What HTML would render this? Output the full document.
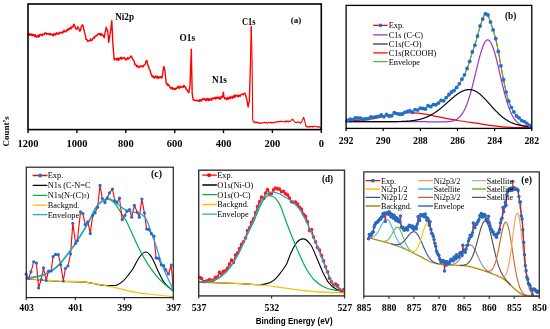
<!DOCTYPE html>
<html><head><meta charset="utf-8"><style>
html,body{margin:0;padding:0;background:#fff;width:550px;height:329px;overflow:hidden}
svg{display:block;will-change:transform}
#w{width:550px;height:329px}

</style></head><body><div id="w">
<svg width="550" height="329" viewBox="0 0 550 329">
<rect width="550" height="329" fill="#fff"/>
<path d="M28 34.6 28.5 34.2 28.9 33.9 29.4 35.3 29.8 33.8 30.3 35.1 30.8 34.8 31.2 34.1 31.7 35.3 32.1 34.2 32.6 35.5 33.1 35.4 33.5 34.5 34 34.6 34.4 35.6 34.9 36.7 35.3 34.9 35.8 35.3 36.2 36.4 36.6 37.3 37.1 36.2 37.6 36.3 38 35.7 38.5 37.1 38.9 34.6 39.4 36.6 39.9 35 40.3 34.5 40.8 34.3 41.2 34.7 41.7 35.1 42.2 35.8 42.6 34 43.1 34.9 43.5 34.9 44 34.1 44.4 34.4 44.9 33 45.3 32.8 45.8 33.1 46.2 33.7 46.7 34.2 47.1 33.6 47.6 33.4 48 34.1 48.5 33.8 49 33.5 49.4 34.8 49.9 34.6 50.3 33.5 50.8 34.2 51.3 34.4 51.7 34.4 52.2 35.3 52.6 35 53.1 33.9 53.6 35.7 54 33.6 54.5 34.6 55 34.2 55.5 34.9 56 33.2 56.5 33.9 57 32.6 57.4 34.1 57.9 34.1 58.4 33.5 58.9 34.1 59.4 32.5 59.9 32.8 60.4 33.1 60.8 32.7 61.3 32.5 61.7 32 62.2 32.9 62.7 33 63.1 31.6 63.6 31.9 64 30.2 64.5 31.2 65 31.6 65.4 31.3 65.9 32 66.3 31.4 66.8 29.8 67.3 29.9 67.7 30.5 68.2 28.7 68.6 29.7 69.1 29.6 69.5 28.4 70 28 70.4 27.6 70.9 29.1 71.3 27.1 71.8 27.8 72.3 26.5 72.7 26.2 73.2 26.8 73.6 24.1 74.1 24.6 74.6 25.4 75 26.5 75.5 28.3 75.9 29 76.4 29.1 76.9 29.3 77.5 27.1 78 26.9 78.5 28 79.1 29.3 79.6 31 80.1 31 80.6 30.2 81.1 27 81.6 26.1 82.1 25.2 82.6 24.9 83.1 26 83.6 28.4 84.1 30.2 84.5 32.7 85 34.1 85.5 35.7 85.9 39.3 86.4 39.3 86.8 39.5 87.3 40.2 87.8 41.5 88.2 41 88.7 40.8 89.2 40.6 89.6 40.7 90 40.6 90.5 38.8 91 40.7 91.4 40.2 91.9 40.2 92.3 39.8 92.8 38.5 93.2 38.6 93.7 38 94.1 36.9 94.6 38 95.1 36.2 95.5 35.9 96 36 96.5 35.5 97 35.7 97.4 34.6 97.9 34.1 98.4 34.2 98.8 33.8 99.3 34.5 99.8 34.2 100.3 33.4 100.8 35.6 101.4 35 101.9 33.8 102.4 34.8 103 35.2 103.6 36.4 104.2 37.8 104.7 34.8 105.2 31.5 105.7 30.8 106.2 27.2 106.7 29.7 107.2 29.6 107.7 31 108.7 42.4 110.7 30.2 111.8 20.8 113 45.4 114.2 59.8 114.7 59.7 115.2 58.6 115.7 58.6 116.2 59.1 116.7 58.8 117.1 60.2 117.6 58.4 118.1 58 118.6 60.3 119.1 59.1 119.6 59 120.1 57.8 120.5 58.7 121 57.2 121.5 58.3 122 59.3 122.4 58.8 122.9 58.2 123.4 57.5 124 57.4 124.5 58.3 125 58.3 125.6 59.7 126 60.1 126.5 59.2 126.9 59.5 127.4 58 127.8 57.4 128.3 58.7 128.8 58.8 129.2 58.2 129.7 57.7 130.1 57.4 130.6 56.9 131 56 131.6 56.3 132.1 58.1 132.6 58.8 133.2 60.2 133.7 60.4 134.3 61.8 134.8 64.5 135.3 64.2 135.8 64.4 136.3 65.8 136.8 66.7 137.3 65.6 137.8 66 138.3 67.3 138.8 67.5 139.2 67.6 139.7 66.1 140.2 65.9 140.7 66 141.1 66.1 141.6 67 142.1 65.8 142.6 66.5 143.1 66.8 143.6 66.2 144.1 64.9 144.6 64.5 145.1 64.1 145.5 63.7 146 61 146.4 61.7 146.9 60.5 147.5 63.7 148.1 65.6 148.7 67 149.2 69 149.6 69.6 150.1 70.2 150.6 73.2 151 73.3 151.5 75.1 152 76.2 152.5 77 153 75.9 153.5 76.2 154 78 154.5 77.2 155 77.8 155.4 76.3 155.9 76.1 156.3 76.2 156.8 78.1 157.3 77.8 157.7 76.1 158.2 77.8 158.6 78.2 159.1 76.9 159.6 77.5 160 76.9 160.4 77.6 160.9 76.7 161.4 76.6 161.8 78.1 162.3 76.4 162.8 72.6 163.3 69.4 163.8 66.4 164.9 70.2 166.1 82.4 166.5 84.1 167 83.4 167.4 85.1 167.9 85.6 168.3 84.5 168.8 85.2 169.2 85.9 169.7 86.4 170.2 87.8 170.6 88.2 171.1 87.6 171.5 88 172 87.3 172.4 89.4 172.9 88 173.4 88.3 173.8 88.6 174.3 89.5 174.7 88.3 175.2 88.5 175.7 89.5 176.1 88.3 176.6 88.3 177 88.1 177.5 86.7 178 87.7 178.4 86.9 178.9 86.3 179.3 88.3 179.8 87.4 180.2 86.4 180.7 87.1 181.2 87.6 181.6 87.1 182.1 86.3 182.5 86.7 183 86.7 183.4 87.2 183.9 85.3 184.3 86.2 184.8 87 185.2 86.7 185.7 87.4 186.1 89.3 186.6 89.2 187.1 89.8 187.5 90.6 188 91.7 188.4 92.8 188.9 92.3 190 85.4 191.3 49.2 192.2 93.8 193.2 99.9 193.7 99.8 194.1 100.3 194.6 100.1 195.1 100.2 195.6 100.7 196 100.1 196.5 100.3 197 100.4 197.5 100.2 198 101.3 198.5 100.7 198.9 101.1 199.4 101.2 199.9 99.4 200.4 100.2 200.9 100 201.4 101.1 201.8 100.8 202.3 98.9 202.7 98.9 203.2 99.6 203.6 98.6 204.1 99 204.5 98.6 205 100.1 205.4 100.3 205.9 100.6 206.4 98.6 206.8 100 207.3 99.9 207.7 98.5 208.2 100.4 208.6 100.5 209.1 98.6 209.5 100.4 210 99.2 210.5 98.9 210.9 99 211.4 100.3 211.8 99.8 212.3 98 212.7 98.6 213.2 98.8 213.7 98.3 214.1 97.8 214.6 98.1 215 99.1 215.5 97.2 215.9 98.5 216.4 98.2 216.8 97 217.3 98.2 217.8 97.7 218.2 98.4 218.7 98 219.2 96.8 219.7 99.1 220.1 98.6 220.6 99 221.1 96.7 221.6 97 222 96.4 222.5 97.5 223.3 92.2 223.9 96.2 224.6 98.8 225.1 98.1 225.5 97.7 226 98.4 226.5 99.6 226.9 99.3 227.4 97.7 227.8 97.4 228.3 99.3 228.8 98.3 229.2 98.6 229.7 96.9 230.2 96.8 230.6 98.4 231.1 97.8 231.6 97.4 232.1 96.3 232.5 98.3 233 97.3 233.5 97.5 234 95.5 234.5 97.3 235 95 235.4 96.9 235.9 95.6 236.4 95.5 236.9 95.2 237.3 95.8 237.8 96.9 238.3 95.3 238.8 95 239.2 96.2 239.7 95.5 240.2 96.3 240.7 95 241.1 94.8 241.6 94.2 242 94.3 242.5 94.3 243 94 243.4 94.9 243.9 93.4 244.3 93.6 244.8 93.3 245.3 94 245.8 95.9 246.3 97.8 246.9 99.6 247.5 103.3 248.1 107 248.7 103.4 249.3 102.4 250.6 60 251.3 26.5" fill="none" stroke="#ff0000" stroke-width="1.4" stroke-linejoin="round" stroke-linecap="round"/>
<path d="M251.3 26.5 252.1 60 252.7 119.9 253.3 121.3 253.9 122.1 254.4 122.2 254.9 121.8 255.3 122.2 255.8 122.8 256.3 121.9 256.8 122.8 257.2 122.4 257.7 122.5 258.2 123 258.7 122.5 259.1 122.7 259.6 123 260.1 123.4 260.6 122.7 261 123.3 261.5 123.2 262 123 262.5 123.1 262.9 122.8 263.4 122.8 263.9 122.4 264.3 122.5 264.8 122.4 265.2 123.1 265.7 122.5 266.2 122.4 266.6 122.3 267.1 123.2 267.6 123.2 268 122.9 268.5 122.5 269 122.4 269.4 122.4 269.9 122.6 270.4 122.2 270.8 122.6 271.3 122.3 271.7 123.1 272.2 123.1 272.7 122.6 273.1 122.2 273.6 122.5 274.1 123 274.5 122.2 275 122.2 275.5 121.7 275.9 122.1 276.4 122.2 276.9 122.2 277.3 121.8 277.8 122.1 278.3 121.4 278.7 121.7 279.2 121.4 279.7 121.8 280.2 121.3 280.6 121.2 281.1 121.5 281.6 121.4 282 121.7 282.5 121.6 283 121.8 283.4 121.7 283.9 121.7 284.4 121.9 284.8 121.2 285.3 121.3 285.8 121.1 286.2 121.9 286.7 120.9 287.1 121.6 287.6 121.5 288.1 120.8 288.5 121.7 289 121.8 289.4 121.5 289.9 121.3 290.4 121.2 290.9 121 291.4 119.8 291.8 119.9 292.3 119.6 292.8 119.2 293.3 120.2 293.8 120.8 294.2 121.4 294.7 121.7 295.2 122.2 295.7 122.7 296.2 122.5 296.7 122.5 297.2 122 297.7 121.8 298.2 122 298.7 122.3 299.2 122.5 299.6 122.2 300.1 123.2 300.6 122.9 301 123 301.5 122 302.1 120.8 302.6 119.7 303.2 118.3 303.7 117.2 304.8 121.3 306 126.5 306.5 125.9 307 126.9 307.5 126.9 308 126.7 308.4 126.7 308.9 126.9 309.4 126.3 309.9 127.1 310.4 126.6 310.9 126.9 311.4 126.3 311.9 126.4 312.4 126.9 312.9 126.2 313.4 126.8 313.9 126.9 314.4 126.3 314.9 126.2 315.4 126.2 315.9 126.4 316.4 126.8 316.9 127 317.4 126.9 317.9 126.9 318.4 127.2 318.8 126.6 319.3 126.7 319.7 126.9 320.2 127.3 321.3 129.5" fill="none" stroke="#ff0000" stroke-width="1.1" stroke-linejoin="round" stroke-linecap="round"/>
<rect x="28" y="4" width="293.3" height="125.6" fill="none" stroke="#000" stroke-width="1.6"/>
<path d="M28 129.6v3.5M76.9 129.6v3.5M125.8 129.6v3.5M174.7 129.6v3.5M223.5 129.6v3.5M272.4 129.6v3.5M321.3 129.6v3.5" stroke="#000" stroke-width="1.4" fill="none"/>
<text x="28" y="146.9" font-family="Liberation Serif" font-size="10.5" font-weight="bold" text-anchor="middle" fill="#000">1200</text>
<text x="76.9" y="146.9" font-family="Liberation Serif" font-size="10.5" font-weight="bold" text-anchor="middle" fill="#000">1000</text>
<text x="125.8" y="146.9" font-family="Liberation Serif" font-size="10.5" font-weight="bold" text-anchor="middle" fill="#000">800</text>
<text x="174.7" y="146.9" font-family="Liberation Serif" font-size="10.5" font-weight="bold" text-anchor="middle" fill="#000">600</text>
<text x="223.5" y="146.9" font-family="Liberation Serif" font-size="10.5" font-weight="bold" text-anchor="middle" fill="#000">400</text>
<text x="272.4" y="146.9" font-family="Liberation Serif" font-size="10.5" font-weight="bold" text-anchor="middle" fill="#000">200</text>
<text x="321.3" y="146.9" font-family="Liberation Serif" font-size="10.5" font-weight="bold" text-anchor="middle" fill="#000">0</text>
<text x="115.2" y="20.4" font-family="Liberation Serif" font-size="9.4" font-weight="bold" text-anchor="start" fill="#000" textLength="18.8" lengthAdjust="spacingAndGlyphs">Ni2p</text>
<text x="179.6" y="41.3" font-family="Liberation Serif" font-size="9.4" font-weight="bold" text-anchor="start" fill="#000" textLength="15.5" lengthAdjust="spacingAndGlyphs">O1s</text>
<text x="212" y="82.6" font-family="Liberation Serif" font-size="9.4" font-weight="bold" text-anchor="start" fill="#000" textLength="14.9" lengthAdjust="spacingAndGlyphs">N1s</text>
<text x="242" y="24.5" font-family="Liberation Serif" font-size="9.3" font-weight="bold" text-anchor="start" fill="#000" textLength="13.6" lengthAdjust="spacingAndGlyphs">C1s</text>
<text x="290.7" y="22.8" font-family="Liberation Serif" font-size="9.2" font-weight="bold" text-anchor="start" fill="#000" textLength="10.7" lengthAdjust="spacingAndGlyphs">(a)</text>
<text transform="translate(9.2 131.4) rotate(-90)" font-family="Liberation Serif" font-size="8.6" font-weight="bold" text-anchor="middle" textLength="30" lengthAdjust="spacingAndGlyphs">Count&#8217;s</text>
<path d="M346.1 121.2C349.1 121 358.4 120.6 364 119.9C369.6 119.2 375.7 118.2 380 117.3C384.3 116.4 386.7 115.5 390 114.8C393.3 114.1 396.4 113.6 400 113.2C403.6 112.8 407.6 112.4 411.8 112.6C416 112.8 420.3 113.4 425 114.2C429.7 115 434.5 116.2 440 117.2C445.5 118.2 452 119.5 458 120.5C464 121.5 469.9 122.3 476 123.2C482.1 124.1 488.7 125.2 494.5 125.9C500.3 126.6 504.8 127.1 511 127.4C517.2 127.7 528.1 127.7 531.5 127.7" fill="none" stroke="#ff0000" stroke-width="1.2" stroke-linejoin="round" stroke-linecap="round"/>
<path d="M346.1 121.7 346.6 121.7 347.1 121.7 347.6 121.7 348.1 121.7 348.6 121.7 349.1 121.7 349.6 121.7 350.1 121.7 350.6 121.7 351.1 121.7 351.6 121.7 352.1 121.7 352.6 121.7 353.1 121.7 353.6 121.7 354.1 121.7 354.6 121.7 355.1 121.7 355.6 121.7 356.1 121.7 356.6 121.7 357.1 121.7 357.6 121.7 358.1 121.7 358.6 121.7 359.1 121.7 359.6 121.7 360.1 121.7 360.6 121.7 361.1 121.7 361.6 121.7 362.1 121.7 362.6 121.7 363.1 121.7 363.6 121.7 364.1 121.7 364.6 121.7 365.1 121.7 365.6 121.7 366.1 121.7 366.6 121.7 367.1 121.7 367.6 121.7 368.1 121.7 368.6 121.7 369.1 121.7 369.6 121.7 370.1 121.7 370.6 121.7 371.1 121.7 371.6 121.7 372.1 121.7 372.6 121.7 373.1 121.7 373.6 121.7 374.1 121.7 374.6 121.7 375.1 121.7 375.6 121.7 376.1 121.7 376.6 121.7 377.1 121.7 377.6 121.7 378.1 121.7 378.6 121.7 379.1 121.7 379.6 121.7 380.1 121.7 380.6 121.7 381.1 121.7 381.6 121.7 382.1 121.7 382.6 121.7 383.1 121.7 383.6 121.7 384.1 121.7 384.6 121.7 385.1 121.7 385.6 121.7 386.1 121.7 386.6 121.7 387.1 121.7 387.6 121.7 388.1 121.7 388.6 121.7 389.1 121.7 389.6 121.7 390.1 121.7 390.6 121.7 391.1 121.7 391.6 121.7 392.1 121.7 392.6 121.7 393.1 121.7 393.6 121.7 394.1 121.7 394.6 121.7 395.1 121.7 395.6 121.7 396.1 121.7 396.6 121.7 397.1 121.7 397.6 121.7 398.1 121.7 398.6 121.7 399.1 121.7 399.6 121.7 400.1 121.7 400.6 121.7 401.1 121.7 401.6 121.7 402.1 121.7 402.6 121.7 403.1 121.7 403.6 121.7 404.1 121.7 404.6 121.7 405.1 121.7 405.6 121.7 406.1 121.7 406.6 121.7 407.1 121.7 407.6 121.7 408.1 121.7 408.6 121.7 409.1 121.7 409.6 121.7 410.1 121.7 410.6 121.7 411.1 121.7 411.6 121.7 412.1 121.7 412.6 121.7 413.1 121.7 413.6 121.7 414.1 121.7 414.6 121.7 415.1 121.7 415.6 121.7 416.1 121.7 416.6 121.7 417.1 121.7 417.6 121.7 418.1 121.7 418.6 121.7 419.1 121.7 419.6 121.7 420.1 121.7 420.6 121.7 421.1 121.7 421.6 121.7 422.1 121.7 422.6 121.7 423.1 121.7 423.6 121.7 424.1 121.7 424.6 121.7 425.1 121.7 425.6 121.7 426.1 121.7 426.6 121.8 427.1 121.8 427.6 121.8 428.1 121.8 428.6 121.8 429.1 121.8 429.6 121.8 430.1 121.8 430.6 121.8 431.1 121.8 431.6 121.8 432.1 121.8 432.6 121.8 433.1 121.8 433.6 121.8 434.1 121.8 434.6 121.8 435.1 121.8 435.6 121.8 436.1 121.8 436.6 121.8 437.1 121.8 437.6 121.8 438.1 121.8 438.6 121.8 439.1 121.8 439.6 121.9 440.1 121.9 440.6 121.9 441.1 121.9 441.6 121.9 442.1 121.9 442.6 121.9 443.1 121.9 443.6 121.8 444.1 121.8 444.6 121.8 445.1 121.8 445.6 121.8 446.1 121.8 446.6 121.8 447.1 121.7 447.6 121.7 448.1 121.7 448.6 121.6 449.1 121.6 449.6 121.5 450.1 121.5 450.6 121.4 451.1 121.3 451.6 121.2 452.1 121.1 452.6 121 453.1 120.9 453.6 120.7 454.1 120.5 454.6 120.4 455.1 120.1 455.6 119.9 456.1 119.7 456.6 119.4 457.1 119.1 457.6 118.7 458.1 118.3 458.6 117.9 459.1 117.5 459.6 117 460.1 116.5 460.6 115.9 461.1 115.3 461.6 114.6 462.1 113.9 462.6 113.2 463.1 112.3 463.6 111.5 464.1 110.5 464.6 109.5 465.1 108.5 465.6 107.4 466.1 106.2 466.6 105 467.1 103.7 467.6 102.3 468.1 100.9 468.6 99.4 469.1 97.8 469.6 96.2 470.1 94.5 470.6 92.8 471.1 91 471.6 89.2 472.1 87.3 472.6 85.4 473.1 83.4 473.6 81.4 474.1 79.4 474.6 77.3 475.1 75.2 475.6 73.2 476.1 71.1 476.6 69 477.1 66.9 477.6 64.9 478.1 62.9 478.6 60.9 479.1 58.9 479.6 57 480.1 55.2 480.6 53.5 481.1 51.8 481.6 50.2 482.1 48.7 482.6 47.2 483.1 45.9 483.6 44.8 484.1 43.7 484.6 42.7 485.1 41.9 485.6 41.2 486.1 40.7 486.6 40.3 487.1 40 487.6 39.9 488.1 39.9 488.6 40.1 489.1 40.4 489.6 40.8 490.1 41.4 490.6 42.2 491.1 43 491.6 44 492.1 45.2 492.6 46.4 493.1 47.8 493.6 49.2 494.1 50.8 494.6 52.5 495.1 54.2 495.6 56 496.1 57.9 496.6 59.9 497.1 61.9 497.6 64 498.1 66.1 498.6 68.2 499.1 70.4 499.6 72.5 500.1 74.7 500.6 76.9 501.1 79 501.6 81.2 502.1 83.3 502.6 85.4 503.1 87.5 503.6 89.5 504.1 91.5 504.6 93.4 505.1 95.3 505.6 97.1 506.1 98.9 506.6 100.6 507.1 102.3 507.6 103.8 508.1 105.4 508.6 106.8 509.1 108.2 509.6 109.5 510.1 110.8 510.6 112 511.1 113.1 511.6 114.2 512.1 115.2 512.6 116.1 513.1 117 513.6 117.8 514.1 118.6 514.6 119.3 515.1 120 515.6 120.6 516.1 121.2 516.6 121.7 517.1 122.2 517.6 122.7 518.1 123.1 518.6 123.5 519.1 123.8 519.6 124.2 520.1 124.5 520.6 124.7 521.1 125 521.6 125.2 522.1 125.4 522.6 125.6 523.1 125.7 523.6 125.9 524.1 126 524.6 126.1 525.1 126.2 525.6 126.3 526.1 126.4 526.6 126.5 527.1 126.5 527.6 126.6 528.1 126.6 528.6 126.7 529.1 126.7 529.6 126.8 530.1 126.8 530.6 126.8 531.1 126.8 531.6 126.9" fill="none" stroke="#9933cc" stroke-width="1.2" stroke-linejoin="round" stroke-linecap="round"/>
<path d="M346.1 121.7 346.6 121.7 347.1 121.7 347.6 121.7 348.1 121.7 348.6 121.7 349.1 121.7 349.6 121.7 350.1 121.7 350.6 121.7 351.1 121.7 351.6 121.7 352.1 121.7 352.6 121.7 353.1 121.7 353.6 121.7 354.1 121.7 354.6 121.7 355.1 121.7 355.6 121.7 356.1 121.7 356.6 121.7 357.1 121.7 357.6 121.7 358.1 121.7 358.6 121.7 359.1 121.7 359.6 121.7 360.1 121.7 360.6 121.7 361.1 121.7 361.6 121.7 362.1 121.7 362.6 121.7 363.1 121.7 363.6 121.7 364.1 121.7 364.6 121.7 365.1 121.7 365.6 121.7 366.1 121.7 366.6 121.7 367.1 121.7 367.6 121.7 368.1 121.7 368.6 121.7 369.1 121.7 369.6 121.7 370.1 121.7 370.6 121.7 371.1 121.7 371.6 121.7 372.1 121.7 372.6 121.7 373.1 121.7 373.6 121.7 374.1 121.7 374.6 121.7 375.1 121.7 375.6 121.7 376.1 121.7 376.6 121.7 377.1 121.7 377.6 121.7 378.1 121.7 378.6 121.7 379.1 121.7 379.6 121.7 380.1 121.7 380.6 121.7 381.1 121.7 381.6 121.7 382.1 121.7 382.6 121.7 383.1 121.7 383.6 121.7 384.1 121.7 384.6 121.7 385.1 121.7 385.6 121.7 386.1 121.7 386.6 121.7 387.1 121.7 387.6 121.7 388.1 121.7 388.6 121.7 389.1 121.7 389.6 121.7 390.1 121.7 390.6 121.7 391.1 121.6 391.6 121.6 392.1 121.6 392.6 121.6 393.1 121.6 393.6 121.6 394.1 121.6 394.6 121.6 395.1 121.6 395.6 121.6 396.1 121.6 396.6 121.6 397.1 121.6 397.6 121.6 398.1 121.5 398.6 121.5 399.1 121.5 399.6 121.5 400.1 121.5 400.6 121.5 401.1 121.5 401.6 121.4 402.1 121.4 402.6 121.4 403.1 121.4 403.6 121.4 404.1 121.3 404.6 121.3 405.1 121.3 405.6 121.3 406.1 121.2 406.6 121.2 407.1 121.2 407.6 121.1 408.1 121.1 408.6 121 409.1 121 409.6 121 410.1 120.9 410.6 120.9 411.1 120.8 411.6 120.7 412.1 120.7 412.6 120.6 413.1 120.6 413.6 120.5 414.1 120.4 414.6 120.3 415.1 120.3 415.6 120.2 416.1 120.1 416.6 120 417.1 119.9 417.6 119.8 418.1 119.7 418.6 119.6 419.1 119.5 419.6 119.4 420.1 119.2 420.6 119.1 421.1 119 421.6 118.8 422.1 118.7 422.6 118.5 423.1 118.4 423.6 118.2 424.1 118 424.6 117.8 425.1 117.7 425.6 117.5 426.1 117.3 426.6 117.1 427.1 116.9 427.6 116.6 428.1 116.4 428.6 116.2 429.1 115.9 429.6 115.7 430.1 115.4 430.6 115.2 431.1 114.9 431.6 114.6 432.1 114.3 432.6 114 433.1 113.7 433.6 113.4 434.1 113.1 434.6 112.8 435.1 112.5 435.6 112.1 436.1 111.8 436.6 111.4 437.1 111.1 437.6 110.7 438.1 110.3 438.6 110 439.1 109.6 439.6 109.2 440.1 108.8 440.6 108.4 441.1 108 441.6 107.6 442.1 107.1 442.6 106.7 443.1 106.3 443.6 105.9 444.1 105.4 444.6 105 445.1 104.5 445.6 104.1 446.1 103.7 446.6 103.2 447.1 102.8 447.6 102.3 448.1 101.9 448.6 101.4 449.1 101 449.6 100.5 450.1 100.1 450.6 99.6 451.1 99.2 451.6 98.8 452.1 98.3 452.6 97.9 453.1 97.5 453.6 97.1 454.1 96.7 454.6 96.2 455.1 95.8 455.6 95.5 456.1 95.1 456.6 94.7 457.1 94.3 457.6 94 458.1 93.6 458.6 93.3 459.1 93 459.6 92.7 460.1 92.4 460.6 92.1 461.1 91.8 461.6 91.6 462.1 91.3 462.6 91.1 463.1 90.9 463.6 90.7 464.1 90.5 464.6 90.3 465.1 90.2 465.6 90 466.1 89.9 466.6 89.8 467.1 89.7 467.6 89.7 468.1 89.6 468.6 89.6 469.1 89.6 469.6 89.6 470.1 89.6 470.6 89.6 471.1 89.7 471.6 89.8 472.1 89.9 472.6 90 473.1 90.2 473.6 90.4 474.1 90.5 474.6 90.8 475.1 91 475.6 91.2 476.1 91.5 476.6 91.8 477.1 92.1 477.6 92.4 478.1 92.8 478.6 93.1 479.1 93.5 479.6 93.9 480.1 94.3 480.6 94.7 481.1 95.2 481.6 95.6 482.1 96.1 482.6 96.6 483.1 97.1 483.6 97.5 484.1 98.1 484.6 98.6 485.1 99.1 485.6 99.6 486.1 100.2 486.6 100.7 487.1 101.3 487.6 101.8 488.1 102.4 488.6 102.9 489.1 103.5 489.6 104 490.1 104.6 490.6 105.2 491.1 105.7 491.6 106.3 492.1 106.9 492.6 107.4 493.1 108 493.6 108.5 494.1 109.1 494.6 109.6 495.1 110.1 495.6 110.6 496.1 111.2 496.6 111.7 497.1 112.2 497.6 112.7 498.1 113.2 498.6 113.7 499.1 114.1 499.6 114.6 500.1 115 500.6 115.5 501.1 115.9 501.6 116.3 502.1 116.8 502.6 117.2 503.1 117.6 503.6 117.9 504.1 118.3 504.6 118.7 505.1 119 505.6 119.4 506.1 119.7 506.6 120 507.1 120.3 507.6 120.6 508.1 120.9 508.6 121.2 509.1 121.5 509.6 121.7 510.1 122 510.6 122.2 511.1 122.5 511.6 122.7 512.1 122.9 512.6 123.1 513.1 123.3 513.6 123.5 514.1 123.7 514.6 123.9 515.1 124 515.6 124.2 516.1 124.4 516.6 124.5 517.1 124.6 517.6 124.8 518.1 124.9 518.6 125 519.1 125.1 519.6 125.2 520.1 125.3 520.6 125.4 521.1 125.5 521.6 125.6 522.1 125.7 522.6 125.8 523.1 125.9 523.6 125.9 524.1 126 524.6 126.1 525.1 126.1 525.6 126.2 526.1 126.2 526.6 126.3 527.1 126.3 527.6 126.4 528.1 126.4 528.6 126.5 529.1 126.5 529.6 126.5 530.1 126.6 530.6 126.6 531.1 126.6 531.6 126.7" fill="none" stroke="#000000" stroke-width="1.2" stroke-linejoin="round" stroke-linecap="round"/>
<path d="M347.5 120.5 350.1 119.1 352.7 119.7 355.3 117.9 357.9 117.8 360.5 118.2 363.1 119.2 365.7 119 368.3 118.6 370.9 117 373.5 117.3 376.1 116.7 378.7 116.3 381.3 114.9 383.9 116.8 386.5 114.4 389.1 116.3 391.7 115.8 394.3 112.7 396.9 113.6 399.5 114.3 402.1 114.3 404.7 112.4 407.3 111.4 409.9 110.7 412.5 112.4 415.1 109.6 417.7 110.1 420.3 108.1 422.9 108.5 425.5 109 428.1 105.6 430.7 106.7 433.3 104.7 435.9 104.8 438.5 103.1 441.1 100.4 443.7 100.8 446.3 97.6 448.9 94.5 451.5 92 454.1 90.5 456.7 87.4 459.3 83.8 461.9 79.2 464.5 74.8 467.1 68.4 469.7 61.3 472.3 52 474.9 45.2 477.5 36.1 480.1 26 482.7 19 485.3 13.8 487.9 15 490.5 21.9 493.1 29.9 495.7 38.7 498.3 51.5 500.9 65.8 503.5 79.7 506.1 92.1 508.7 101.2 511.3 107.3 513.9 111.9 516.5 116 519.1 117.9 521.7 120.6 524.3 121.6 526.9 123.3 529.5 125.4" fill="none" stroke="#ff0000" stroke-width="1" stroke-linejoin="round" stroke-linecap="round"/>
<path d="M346.1 119.9C349.1 119.7 358.4 119.2 364 118.6C369.6 118 374.8 117 380 116.2C385.2 115.4 389.8 114.8 395 114C400.2 113.2 406 112.4 411 111.4C416 110.4 420.2 109.4 425 107.8C429.8 106.2 436.4 103.5 440 101.8C443.6 100 445.1 98.4 446.8 97.3C448.5 96.2 448.6 96.3 450 95C451.4 93.7 453.5 91.3 455 89.5C456.5 87.7 457.9 86.1 459.1 84.3C460.4 82.5 461.4 80.5 462.5 78.5C463.6 76.5 464.6 75.2 465.8 72.1C467.1 69 468.9 63.4 470 60C471.1 56.6 471.7 54.6 472.5 52C473.3 49.4 474 47.9 475 44.6C476 41.4 477.4 35.9 478.4 32.5C479.4 29.1 479.9 26.9 480.8 24.2C481.7 21.5 482.8 18 483.6 16.2C484.4 14.4 485 13.8 485.6 13.3C486.2 12.9 486.6 12.2 487.4 13.5C488.1 14.8 489.1 17.9 490.1 21C491.2 24.1 492.6 28.5 493.7 32C494.8 35.5 495.7 38.5 496.5 41.9C497.3 45.3 498 49.5 498.6 52.5C499.2 55.5 499.4 57 499.9 60C500.4 63 501 66.1 501.8 70.6C502.6 75.1 503.8 81.9 504.9 86.9C506 91.9 507.1 96.6 508.4 100.6C509.7 104.6 511.2 107.9 512.9 110.8C514.6 113.7 516.3 115.6 518.6 117.7C520.9 119.8 524.5 121.9 526.6 123.4C528.8 124.9 530.7 126.2 531.5 126.8" fill="none" stroke="#5cb82e" stroke-width="1.1" stroke-linejoin="round" stroke-linecap="round"/>
<g fill="#1f6fd0"><circle cx="347.5" cy="120.5" r="1.9"/><circle cx="350.1" cy="119.1" r="1.9"/><circle cx="352.7" cy="119.7" r="1.9"/><circle cx="355.3" cy="117.9" r="1.9"/><circle cx="357.9" cy="117.8" r="1.9"/><circle cx="360.5" cy="118.2" r="1.9"/><circle cx="363.1" cy="119.2" r="1.9"/><circle cx="365.7" cy="119" r="1.9"/><circle cx="368.3" cy="118.6" r="1.9"/><circle cx="370.9" cy="117" r="1.9"/><circle cx="373.5" cy="117.3" r="1.9"/><circle cx="376.1" cy="116.7" r="1.9"/><circle cx="378.7" cy="116.3" r="1.9"/><circle cx="381.3" cy="114.9" r="1.9"/><circle cx="383.9" cy="116.8" r="1.9"/><circle cx="386.5" cy="114.4" r="1.9"/><circle cx="389.1" cy="116.3" r="1.9"/><circle cx="391.7" cy="115.8" r="1.9"/><circle cx="394.3" cy="112.7" r="1.9"/><circle cx="396.9" cy="113.6" r="1.9"/><circle cx="399.5" cy="114.3" r="1.9"/><circle cx="402.1" cy="114.3" r="1.9"/><circle cx="404.7" cy="112.4" r="1.9"/><circle cx="407.3" cy="111.4" r="1.9"/><circle cx="409.9" cy="110.7" r="1.9"/><circle cx="412.5" cy="112.4" r="1.9"/><circle cx="415.1" cy="109.6" r="1.9"/><circle cx="417.7" cy="110.1" r="1.9"/><circle cx="420.3" cy="108.1" r="1.9"/><circle cx="422.9" cy="108.5" r="1.9"/><circle cx="425.5" cy="109" r="1.9"/><circle cx="428.1" cy="105.6" r="1.9"/><circle cx="430.7" cy="106.7" r="1.9"/><circle cx="433.3" cy="104.7" r="1.9"/><circle cx="435.9" cy="104.8" r="1.9"/><circle cx="438.5" cy="103.1" r="1.9"/><circle cx="441.1" cy="100.4" r="1.9"/><circle cx="443.7" cy="100.8" r="1.9"/><circle cx="446.3" cy="97.6" r="1.9"/><circle cx="448.9" cy="94.5" r="1.9"/><circle cx="451.5" cy="92" r="1.9"/><circle cx="454.1" cy="90.5" r="1.9"/><circle cx="456.7" cy="87.4" r="1.9"/><circle cx="459.3" cy="83.8" r="1.9"/><circle cx="461.9" cy="79.2" r="1.9"/><circle cx="464.5" cy="74.8" r="1.9"/><circle cx="467.1" cy="68.4" r="1.9"/><circle cx="469.7" cy="61.3" r="1.9"/><circle cx="472.3" cy="52" r="1.9"/><circle cx="474.9" cy="45.2" r="1.9"/><circle cx="477.5" cy="36.1" r="1.9"/><circle cx="480.1" cy="26" r="1.9"/><circle cx="482.7" cy="19" r="1.9"/><circle cx="485.3" cy="13.8" r="1.9"/><circle cx="487.9" cy="15" r="1.9"/><circle cx="490.5" cy="21.9" r="1.9"/><circle cx="493.1" cy="29.9" r="1.9"/><circle cx="495.7" cy="38.7" r="1.9"/><circle cx="498.3" cy="51.5" r="1.9"/><circle cx="500.9" cy="65.8" r="1.9"/><circle cx="503.5" cy="79.7" r="1.9"/><circle cx="506.1" cy="92.1" r="1.9"/><circle cx="508.7" cy="101.2" r="1.9"/><circle cx="511.3" cy="107.3" r="1.9"/><circle cx="513.9" cy="111.9" r="1.9"/><circle cx="516.5" cy="116" r="1.9"/><circle cx="519.1" cy="117.9" r="1.9"/><circle cx="521.7" cy="120.6" r="1.9"/><circle cx="524.3" cy="121.6" r="1.9"/><circle cx="526.9" cy="123.3" r="1.9"/><circle cx="529.5" cy="125.4" r="1.9"/></g>
<rect x="346.1" y="5.4" width="185.7" height="123" fill="none" stroke="#000" stroke-width="1.3"/>
<path d="M531.8 128.4v2.6M494.7 128.4v2.6M457.5 128.4v2.6M420.4 128.4v2.6M383.2 128.4v2.6M346.1 128.4v2.6" stroke="#000" stroke-width="1.2" fill="none"/>
<text x="531.8" y="144" font-family="Liberation Serif" font-size="9.8" font-weight="bold" text-anchor="middle" fill="#000">282</text>
<text x="494.7" y="144" font-family="Liberation Serif" font-size="9.8" font-weight="bold" text-anchor="middle" fill="#000">284</text>
<text x="457.5" y="144" font-family="Liberation Serif" font-size="9.8" font-weight="bold" text-anchor="middle" fill="#000">286</text>
<text x="420.4" y="144" font-family="Liberation Serif" font-size="9.8" font-weight="bold" text-anchor="middle" fill="#000">288</text>
<text x="383.2" y="144" font-family="Liberation Serif" font-size="9.8" font-weight="bold" text-anchor="middle" fill="#000">290</text>
<text x="346.1" y="144" font-family="Liberation Serif" font-size="9.8" font-weight="bold" text-anchor="middle" fill="#000">292</text>
<path d="M373.6 25.3H387.2" fill="none" stroke="#ff0000" stroke-width="1.2" stroke-linejoin="round" stroke-linecap="round"/>
<text x="388.7" y="28.2" font-family="Liberation Serif" font-size="8.3" text-anchor="start" fill="#000">Exp.</text>
<path d="M373.6 34.8H387.2" fill="none" stroke="#9933cc" stroke-width="1.2" stroke-linejoin="round" stroke-linecap="round"/>
<text x="388.7" y="37.7" font-family="Liberation Serif" font-size="8.3" text-anchor="start" fill="#000">C1s (C-C)</text>
<path d="M373.6 44H387.2" fill="none" stroke="#000000" stroke-width="1.2" stroke-linejoin="round" stroke-linecap="round"/>
<text x="388.7" y="46.9" font-family="Liberation Serif" font-size="8.3" text-anchor="start" fill="#000">C1s(C-O)</text>
<path d="M373.6 52.8H387.2" fill="none" stroke="#ff0000" stroke-width="1.2" stroke-linejoin="round" stroke-linecap="round"/>
<text x="388.7" y="55.7" font-family="Liberation Serif" font-size="8.3" text-anchor="start" fill="#000">C1s(RCOOH)</text>
<path d="M373.6 61.6H387.2" fill="none" stroke="#5cb82e" stroke-width="1.2" stroke-linejoin="round" stroke-linecap="round"/>
<text x="388.7" y="64.5" font-family="Liberation Serif" font-size="8.3" text-anchor="start" fill="#000">Envelope</text>
<g fill="#1f6fd0"><circle cx="380.5" cy="25.3" r="1.9"/></g>
<text x="504.9" y="18.7" font-family="Liberation Serif" font-size="9.4" font-weight="bold" text-anchor="start" fill="#000" textLength="11.4" lengthAdjust="spacingAndGlyphs">(b)</text>
<path d="M26.3 278.7C31.6 279.1 48.2 280.7 58 281.3C67.8 281.9 78 281.5 85 282.1C92 282.7 96.3 284.3 100 284.9C103.7 285.5 105 285.5 107 285.6C109 285.7 110.3 285.6 112 285.5C113.7 285.4 115.1 285.7 117 284.9C118.9 284.1 121.3 282.6 123.3 280.8C125.3 279.1 127.1 276.5 128.8 274.4C130.5 272.3 131.7 270.8 133.4 268C135.1 265.2 137.2 260.2 139.2 257.5C141.2 254.8 143.5 252 145.6 252C147.7 252 149.8 254.4 151.9 257.7C154 260.9 156.2 267.2 158.3 271.5C160.4 275.8 162.2 279.9 164.7 283.2C167.2 286.4 171.8 289.7 173.2 291" fill="none" stroke="#000000" stroke-width="1.1" stroke-linejoin="round" stroke-linecap="round"/>
<path d="M26.3 278.7C31.6 279.1 48.2 280.5 58 281.1C67.8 281.7 76.7 281.2 85 282.1C93.3 283 101.7 285 107.8 286.2C113.9 287.4 117.3 288.2 121.8 289.2C126.3 290.2 130.6 291.4 135 292.2C139.4 293 143.4 293.4 148 294C152.6 294.6 158.4 295.1 162.6 295.5C166.8 295.9 171.4 296.4 173.2 296.6" fill="none" stroke="#ffc000" stroke-width="1.2" stroke-linejoin="round" stroke-linecap="round"/>
<path d="M26.3 278.2C27.6 278.1 31.3 277.9 34.1 277.4C36.9 276.9 40.2 276.2 43.2 275.1C46.2 274 49.5 272.5 52.3 270.6C55.1 268.8 57 267.3 60 264C63 260.7 67.2 254.9 70.2 250.9C73.2 246.9 75.3 243.9 77.8 240.1C80.3 236.3 83.4 231.3 85.4 227.9C87.4 224.5 88.3 222.8 90 219.6C91.7 216.3 93.9 211.2 95.6 208.4C97.3 205.7 98.6 204.5 100 203.1C101.4 201.7 102.6 200.9 104 200.2C105.4 199.5 106.9 198.8 108.5 199.1C110.1 199.4 112 200.6 113.5 202C115 203.4 116.4 205.5 117.8 207.6C119.2 209.7 120.6 212.3 122 214.5C123.4 216.7 125 218.8 126.3 221C127.6 223.2 128.5 225.6 129.6 228C130.7 230.4 131.7 232.8 132.8 235.2C133.9 237.6 134.6 239.3 136 242.2C137.4 245.1 139.4 249.2 141.3 252.8C143.2 256.4 145.2 260 147.7 263.8C150.2 267.6 153.4 272.2 156.2 275.6C159 279 161.9 281.8 164.7 284.3C167.5 286.8 171.8 289.6 173.2 290.7" fill="none" stroke="#00b050" stroke-width="1.2" stroke-linejoin="round" stroke-linecap="round"/>
<path d="M26.1 274.1 28.5 278.5 31 271.8 33.7 261.8 36.4 263 38.6 287.9 41.2 279.5 43.5 267.8 46.2 280.5 48.5 271 51.1 271 53.1 256.7 55.6 254.4 58.3 254.7 60.7 264.8 63.3 281 65.4 268.5 68 265.8 70.6 254 72.8 223.4 75.6 243.3 77.4 240.7 80.5 211.9 82.9 213.7 85.2 224.7 87.8 221.9 90.3 233.4 92.7 215.5 95.1 212.8 97.6 207.3 100 185.4 102.3 198.5 104.9 202.7 107.2 197.8 109.5 192.9 112.5 189 114.8 200.8 117 202.4 119.5 198.2 122.2 219.7 124.9 215.5 127 211.2 129.5 209.5 131.7 217.2 134.4 205.3 137.2 212.3 139.3 217.2 141.9 199.1 144.4 212.9 146.6 229 148.5 229.4 151.4 233.7 153.9 236.2 156.1 257.9 158.5 258.4 161.3 265 163.7 265.5 165.8 269.8 168.4 274 171.3 265 173.2 289" fill="none" stroke="#ff0000" stroke-width="1.1" stroke-linejoin="round" stroke-linecap="round"/>
<path d="M26.3 277.8C27.6 277.6 31.3 277.4 34.1 276.9C36.9 276.4 40.2 275.8 43.2 274.6C46.2 273.5 49.5 271.9 52.3 270C55.1 268.1 57 266.7 60 263.4C63 260.1 67.2 254.3 70.2 250.3C73.2 246.3 75.3 243.3 77.8 239.5C80.3 235.7 83.4 230.7 85.4 227.3C87.4 223.9 88.3 222.2 90 219C91.7 215.8 93.9 210.5 95.6 207.8C97.3 205.1 98.6 203.9 100 202.6C101.4 201.3 102.6 200.5 104 199.8C105.4 199.1 106.6 198.5 108.2 198.6C109.8 198.7 111.7 199.5 113.5 200.6C115.3 201.7 117 203.5 118.8 204.9C120.6 206.3 122.3 208 124.1 209.1C125.9 210.2 127.7 211 129.5 211.6C131.3 212.2 133 212.1 134.8 212.4C136.6 212.7 138.5 212.9 140.1 213.6C141.7 214.3 143.2 215.4 144.4 216.8C145.7 218.2 146.4 219.5 147.6 222.3C148.8 225.1 150.5 230.6 151.6 233.6C152.7 236.6 153.5 238.3 154.3 240.6C155.1 242.9 155.8 244.9 156.5 247.2C157.2 249.5 157.6 251.2 158.7 254.6C159.8 258 161.7 263.8 163.2 267.7C164.7 271.6 166.4 275.1 167.7 278C169 280.9 170.1 282.8 171 284.8C171.9 286.8 172.8 289 173.2 289.8" fill="none" stroke="#1aa7e0" stroke-width="1.3" stroke-linejoin="round" stroke-linecap="round"/>
<g fill="#1f6fd0"><circle cx="26.1" cy="274.1" r="1.6"/><circle cx="28.5" cy="278.5" r="1.6"/><circle cx="31" cy="271.8" r="1.6"/><circle cx="33.7" cy="261.8" r="1.6"/><circle cx="36.4" cy="263" r="1.6"/><circle cx="38.6" cy="287.9" r="1.6"/><circle cx="41.2" cy="279.5" r="1.6"/><circle cx="43.5" cy="267.8" r="1.6"/><circle cx="46.2" cy="280.5" r="1.6"/><circle cx="48.5" cy="271" r="1.6"/><circle cx="51.1" cy="271" r="1.6"/><circle cx="53.1" cy="256.7" r="1.6"/><circle cx="55.6" cy="254.4" r="1.6"/><circle cx="58.3" cy="254.7" r="1.6"/><circle cx="60.7" cy="264.8" r="1.6"/><circle cx="63.3" cy="281" r="1.6"/><circle cx="65.4" cy="268.5" r="1.6"/><circle cx="68" cy="265.8" r="1.6"/><circle cx="70.6" cy="254" r="1.6"/><circle cx="72.8" cy="223.4" r="1.6"/><circle cx="75.6" cy="243.3" r="1.6"/><circle cx="77.4" cy="240.7" r="1.6"/><circle cx="80.5" cy="211.9" r="1.6"/><circle cx="82.9" cy="213.7" r="1.6"/><circle cx="85.2" cy="224.7" r="1.6"/><circle cx="87.8" cy="221.9" r="1.6"/><circle cx="90.3" cy="233.4" r="1.6"/><circle cx="92.7" cy="215.5" r="1.6"/><circle cx="95.1" cy="212.8" r="1.6"/><circle cx="97.6" cy="207.3" r="1.6"/><circle cx="100" cy="185.4" r="1.6"/><circle cx="102.3" cy="198.5" r="1.6"/><circle cx="104.9" cy="202.7" r="1.6"/><circle cx="107.2" cy="197.8" r="1.6"/><circle cx="109.5" cy="192.9" r="1.6"/><circle cx="112.5" cy="189" r="1.6"/><circle cx="114.8" cy="200.8" r="1.6"/><circle cx="117" cy="202.4" r="1.6"/><circle cx="119.5" cy="198.2" r="1.6"/><circle cx="122.2" cy="219.7" r="1.6"/><circle cx="124.9" cy="215.5" r="1.6"/><circle cx="127" cy="211.2" r="1.6"/><circle cx="129.5" cy="209.5" r="1.6"/><circle cx="131.7" cy="217.2" r="1.6"/><circle cx="134.4" cy="205.3" r="1.6"/><circle cx="137.2" cy="212.3" r="1.6"/><circle cx="139.3" cy="217.2" r="1.6"/><circle cx="141.9" cy="199.1" r="1.6"/><circle cx="144.4" cy="212.9" r="1.6"/><circle cx="146.6" cy="229" r="1.6"/><circle cx="148.5" cy="229.4" r="1.6"/><circle cx="151.4" cy="233.7" r="1.6"/><circle cx="153.9" cy="236.2" r="1.6"/><circle cx="156.1" cy="257.9" r="1.6"/><circle cx="158.5" cy="258.4" r="1.6"/><circle cx="161.3" cy="265" r="1.6"/><circle cx="163.7" cy="265.5" r="1.6"/><circle cx="165.8" cy="269.8" r="1.6"/><circle cx="168.4" cy="274" r="1.6"/><circle cx="171.3" cy="265" r="1.6"/></g>
<rect x="26.3" y="167.2" width="147" height="130.4" fill="none" stroke="#222" stroke-width="1.2"/>
<path d="M173.3 297.6v2.6M124.3 297.6v2.6M75.3 297.6v2.6M26.3 297.6v2.6" stroke="#222" stroke-width="1.1" fill="none"/>
<text x="26.6" y="310.7" font-family="Liberation Serif" font-size="9.8" font-weight="bold" text-anchor="middle" fill="#000">403</text>
<text x="75.6" y="310.7" font-family="Liberation Serif" font-size="9.8" font-weight="bold" text-anchor="middle" fill="#000">401</text>
<text x="124.6" y="310.7" font-family="Liberation Serif" font-size="9.8" font-weight="bold" text-anchor="middle" fill="#000">399</text>
<text x="173.6" y="310.7" font-family="Liberation Serif" font-size="9.8" font-weight="bold" text-anchor="middle" fill="#000">397</text>
<path d="M33.2 175.5H46.9" fill="none" stroke="#ff0000" stroke-width="1.3" stroke-linejoin="round" stroke-linecap="round"/>
<text x="47.8" y="178.4" font-family="Liberation Serif" font-size="8.3" text-anchor="start" fill="#000">Exp.</text>
<path d="M33.2 185.4H46.9" fill="none" stroke="#000000" stroke-width="1.3" stroke-linejoin="round" stroke-linecap="round"/>
<text x="47.8" y="188.3" font-family="Liberation Serif" font-size="8.3" text-anchor="start" fill="#000">N1s (C-N=C</text>
<path d="M33.2 195.3H46.9" fill="none" stroke="#00b050" stroke-width="1.3" stroke-linejoin="round" stroke-linecap="round"/>
<text x="47.8" y="198.2" font-family="Liberation Serif" font-size="8.3" text-anchor="start" fill="#000">N1s(N-(C)<tspan font-size="5.5">3</tspan>)</text>
<path d="M33.2 205.1H46.9" fill="none" stroke="#ffc000" stroke-width="1.3" stroke-linejoin="round" stroke-linecap="round"/>
<text x="47.8" y="208" font-family="Liberation Serif" font-size="8.3" text-anchor="start" fill="#000">Backgnd.</text>
<path d="M33.2 214.7H46.9" fill="none" stroke="#1aa7e0" stroke-width="1.3" stroke-linejoin="round" stroke-linecap="round"/>
<text x="47.8" y="217.6" font-family="Liberation Serif" font-size="8.3" text-anchor="start" fill="#000">Envelope</text>
<g fill="#1f6fd0"><circle cx="40.1" cy="175.5" r="1.9"/></g>
<text x="151" y="177.4" font-family="Liberation Serif" font-size="9.5" font-weight="bold" text-anchor="start" fill="#000" textLength="10.9" lengthAdjust="spacingAndGlyphs">(c)</text>
<path d="M198.7 282.3C203.9 282.4 222.3 282.9 230 283.2C237.7 283.5 240.7 283.7 245 283.9C249.3 284.1 253.2 284.5 256 284.6C258.8 284.7 259.6 285 262 284.6C264.4 284.2 267.9 283.5 270.2 282.5C272.5 281.5 273.9 280.4 275.7 278.6C277.5 276.9 279.3 274.4 281.1 272C282.9 269.6 285 267.2 286.6 264C288.2 260.8 289.2 256.6 290.9 253C292.6 249.4 294.7 244.7 296.8 242.3C298.9 240 301.4 238.5 303.7 238.9C306 239.3 308.5 241.7 310.7 244.8C312.9 247.9 314.6 253.2 316.6 257.6C318.6 262 320.5 267.3 322.5 271.4C324.5 275.5 326.1 279.3 328.4 282.3C330.7 285.3 333.6 287.6 336.3 289.2C339 290.8 343.1 291.2 344.5 291.6" fill="none" stroke="#000000" stroke-width="1.1" stroke-linejoin="round" stroke-linecap="round"/>
<path d="M198.7 282.3C203.9 282.4 222.3 282.9 230 283.2C237.7 283.5 239.8 283.6 245 283.9C250.2 284.2 255.9 284.4 261.4 285C266.9 285.6 272.4 286.4 278 287.2C283.6 287.9 288.9 288.8 295 289.5C301.1 290.2 308.8 291.1 314.6 291.6C320.4 292.1 325 292.2 330 292.4C335 292.6 342.1 292.7 344.5 292.8" fill="none" stroke="#ffc000" stroke-width="1.2" stroke-linejoin="round" stroke-linecap="round"/>
<path d="M198.9 282C200 282 203.7 282.2 205.5 282.2C207.3 282.2 208.4 282.1 209.8 281.8C211.2 281.5 212.6 281.2 214 280.6C215.4 280 216.9 279.3 218.3 278.4C219.7 277.5 221.2 276.4 222.6 275.2C224 274 225.4 272.8 227 271C228.6 269.2 230.4 267 232.1 264.6C233.8 262.2 235.4 259.4 237 256.5C238.6 253.6 239.9 251.1 241.8 247C243.7 242.9 246.5 236.2 248.5 232C250.5 227.8 252.3 224.6 253.7 221.5C255.1 218.4 255.9 216 257 213.5C258.1 211 259 208.6 260 206.5C261 204.4 262 202.4 263 200.8C264 199.2 265 197.8 266 197C267 196.2 268.1 195.8 269.1 195.7C270.2 195.6 271.2 195.8 272.3 196.2C273.4 196.6 274.4 197.2 275.5 198.3C276.6 199.4 277.6 200.7 278.7 202.6C279.8 204.5 280.8 206.8 281.9 209.5C283 212.2 283.9 215.6 285.1 218.8C286.3 222.1 287.4 224.8 289 229C290.6 233.2 292.9 239 294.9 243.8C296.9 248.6 298.8 253.3 300.8 257.6C302.8 261.9 304.4 265.7 306.7 269.5C309 273.3 311.6 277.4 314.6 280.3C317.6 283.2 321.2 285.6 324.5 287.2C327.8 288.8 331 289.5 334.3 290.2C337.6 290.9 342.8 291.4 344.5 291.6" fill="none" stroke="#00b050" stroke-width="1.2" stroke-linejoin="round" stroke-linecap="round"/>
<path d="M199.5 277.4 201.5 278.4 203.5 281.6 205.5 281.2 207.5 280.7 209.5 279.5 211.5 280.6 213.5 280.1 215.5 277.2 217.5 277 219.5 272.3 221.5 274.3 223.5 271.2 225.5 270.9 227.5 268.2 229.5 264 231.5 260.1 233.5 262.5 235.5 255 237.5 253.1 239.5 248.6 241.5 244.4 243.5 241.8 245.5 238.1 247.5 230.7 249.5 227.8 251.5 222.2 253.5 218.9 255.5 212.9 257.5 206.6 259.5 201.8 261.5 197.1 263.5 198.4 265.5 193.1 267.5 189.6 269.5 193.4 271.5 193.7 273.5 189.9 275.5 188 277.5 188.9 279.5 189.1 281.5 191.8 283.5 191.4 285.5 193.7 287.5 194.9 289.5 198.1 291.5 201.7 293.5 202.4 295.5 202 297.5 204.1 299.5 207.3 301.5 209.4 303.5 214.3 305.5 216.4 307.5 221.9 309.5 230.6 311.5 229.6 313.5 237.1 315.5 241.9 317.5 247.6 319.5 250.1 321.5 255.5 323.5 260.9 325.5 266.8 327.5 271.9 329.5 278.3 331.5 281.8 333.5 285.1 335.5 284.1 337.5 285.6 339.5 289.3 341.5 291 343.5 289.9" fill="none" stroke="#ff0000" stroke-width="1.2" stroke-linejoin="round" stroke-linecap="round"/>
<g fill="#ff1a1a"><circle cx="199.5" cy="277.4" r="1.8"/><circle cx="201.5" cy="278.4" r="1.8"/><circle cx="203.5" cy="281.6" r="1.8"/><circle cx="205.5" cy="281.2" r="1.8"/><circle cx="207.5" cy="280.7" r="1.8"/><circle cx="209.5" cy="279.5" r="1.8"/><circle cx="211.5" cy="280.6" r="1.8"/><circle cx="213.5" cy="280.1" r="1.8"/><circle cx="215.5" cy="277.2" r="1.8"/><circle cx="217.5" cy="277" r="1.8"/><circle cx="219.5" cy="272.3" r="1.8"/><circle cx="221.5" cy="274.3" r="1.8"/><circle cx="223.5" cy="271.2" r="1.8"/><circle cx="225.5" cy="270.9" r="1.8"/><circle cx="227.5" cy="268.2" r="1.8"/><circle cx="229.5" cy="264" r="1.8"/><circle cx="231.5" cy="260.1" r="1.8"/><circle cx="233.5" cy="262.5" r="1.8"/><circle cx="235.5" cy="255" r="1.8"/><circle cx="237.5" cy="253.1" r="1.8"/><circle cx="239.5" cy="248.6" r="1.8"/><circle cx="241.5" cy="244.4" r="1.8"/><circle cx="243.5" cy="241.8" r="1.8"/><circle cx="245.5" cy="238.1" r="1.8"/><circle cx="247.5" cy="230.7" r="1.8"/><circle cx="249.5" cy="227.8" r="1.8"/><circle cx="251.5" cy="222.2" r="1.8"/><circle cx="253.5" cy="218.9" r="1.8"/><circle cx="255.5" cy="212.9" r="1.8"/><circle cx="257.5" cy="206.6" r="1.8"/><circle cx="259.5" cy="201.8" r="1.8"/><circle cx="261.5" cy="197.1" r="1.8"/><circle cx="263.5" cy="198.4" r="1.8"/><circle cx="265.5" cy="193.1" r="1.8"/><circle cx="267.5" cy="189.6" r="1.8"/><circle cx="269.5" cy="193.4" r="1.8"/><circle cx="271.5" cy="193.7" r="1.8"/><circle cx="273.5" cy="189.9" r="1.8"/><circle cx="275.5" cy="188" r="1.8"/><circle cx="277.5" cy="188.9" r="1.8"/><circle cx="279.5" cy="189.1" r="1.8"/><circle cx="281.5" cy="191.8" r="1.8"/><circle cx="283.5" cy="191.4" r="1.8"/><circle cx="285.5" cy="193.7" r="1.8"/><circle cx="287.5" cy="194.9" r="1.8"/><circle cx="289.5" cy="198.1" r="1.8"/><circle cx="291.5" cy="201.7" r="1.8"/><circle cx="293.5" cy="202.4" r="1.8"/><circle cx="295.5" cy="202" r="1.8"/><circle cx="297.5" cy="204.1" r="1.8"/><circle cx="299.5" cy="207.3" r="1.8"/><circle cx="301.5" cy="209.4" r="1.8"/><circle cx="303.5" cy="214.3" r="1.8"/><circle cx="305.5" cy="216.4" r="1.8"/><circle cx="307.5" cy="221.9" r="1.8"/><circle cx="309.5" cy="230.6" r="1.8"/><circle cx="311.5" cy="229.6" r="1.8"/><circle cx="313.5" cy="237.1" r="1.8"/><circle cx="315.5" cy="241.9" r="1.8"/><circle cx="317.5" cy="247.6" r="1.8"/><circle cx="319.5" cy="250.1" r="1.8"/><circle cx="321.5" cy="255.5" r="1.8"/><circle cx="323.5" cy="260.9" r="1.8"/><circle cx="325.5" cy="266.8" r="1.8"/><circle cx="327.5" cy="271.9" r="1.8"/><circle cx="329.5" cy="278.3" r="1.8"/><circle cx="331.5" cy="281.8" r="1.8"/><circle cx="333.5" cy="285.1" r="1.8"/><circle cx="335.5" cy="284.1" r="1.8"/><circle cx="337.5" cy="285.6" r="1.8"/><circle cx="339.5" cy="289.3" r="1.8"/><circle cx="341.5" cy="291" r="1.8"/><circle cx="343.5" cy="289.9" r="1.8"/></g>
<path d="M198.9 281.6C200 281.6 203.7 281.8 205.5 281.8C207.3 281.8 208.4 281.7 209.8 281.4C211.2 281.1 212.6 280.8 214 280.2C215.4 279.6 216.9 278.9 218.3 278C219.7 277.1 221.2 276 222.6 274.8C224 273.6 225.4 272.4 227 270.6C228.6 268.8 230.4 266.6 232.1 264.2C233.8 261.8 235.4 259 237 256C238.6 253 239.9 250.5 241.8 246.4C243.7 242.3 246.5 235.6 248.5 231.2C250.5 226.8 252.4 223.1 253.7 220C255 216.9 255.2 215.6 256.4 212.7C257.5 209.8 259.2 205.6 260.6 202.8C262 200 263.5 197.5 264.9 195.8C266.3 194.1 267.5 193.4 269.1 192.8C270.7 192.2 272.7 192.1 274.5 192.3C276.3 192.5 278 193.2 279.8 194C281.6 194.8 283.3 196.1 285.1 197.2C286.9 198.2 288.7 199 290.5 200.3C292.3 201.6 294.3 203.4 295.9 205C297.5 206.6 298.7 208 300 209.8C301.3 211.6 302.4 213.8 303.5 216C304.6 218.2 305.8 220.5 306.9 222.8C308 225.1 309.3 227.5 310.3 229.8C311.3 232.1 311.9 234.2 313 236.6C314.1 239 315 240.7 316.6 244.5C318.2 248.3 320.5 254.6 322.5 259.6C324.5 264.6 326.4 270.3 328.4 274.5C330.4 278.7 332.3 282.6 334.3 285C336.3 287.4 338.6 288.3 340.3 289.2C342 290.1 343.8 290.3 344.5 290.5" fill="none" stroke="#1aa7e0" stroke-width="1.3" stroke-linejoin="round" stroke-linecap="round"/>
<rect x="198.7" y="170.2" width="145.8" height="125.7" fill="none" stroke="#333" stroke-width="1.4"/>
<path d="M344.5 295.9v2.6M271.6 295.9v2.6M198.7 295.9v2.6" stroke="#333" stroke-width="1.2" fill="none"/>
<text x="199" y="310.8" font-family="Liberation Serif" font-size="9.8" font-weight="bold" text-anchor="middle" fill="#000">537</text>
<text x="271.9" y="310.8" font-family="Liberation Serif" font-size="9.8" font-weight="bold" text-anchor="middle" fill="#000">532</text>
<text x="344.8" y="310.8" font-family="Liberation Serif" font-size="9.8" font-weight="bold" text-anchor="middle" fill="#000">527</text>
<path d="M202.8 175.2H216.4" fill="none" stroke="#ff0000" stroke-width="1.3" stroke-linejoin="round" stroke-linecap="round"/>
<text x="217.3" y="178.1" font-family="Liberation Serif" font-size="8.3" text-anchor="start" fill="#000">Exp.</text>
<path d="M202.8 185H216.4" fill="none" stroke="#000000" stroke-width="1.3" stroke-linejoin="round" stroke-linecap="round"/>
<text x="217.3" y="187.9" font-family="Liberation Serif" font-size="8.3" text-anchor="start" fill="#000">O1s(Ni-O)</text>
<path d="M202.8 194.6H216.4" fill="none" stroke="#00b050" stroke-width="1.3" stroke-linejoin="round" stroke-linecap="round"/>
<text x="217.3" y="197.5" font-family="Liberation Serif" font-size="8.3" text-anchor="start" fill="#000">O1s(O-C)</text>
<path d="M202.8 204.5H216.4" fill="none" stroke="#ffc000" stroke-width="1.3" stroke-linejoin="round" stroke-linecap="round"/>
<text x="217.3" y="207.4" font-family="Liberation Serif" font-size="8.3" text-anchor="start" fill="#000">Backgnd.</text>
<path d="M202.8 214.2H216.4" fill="none" stroke="#1aa7e0" stroke-width="1.3" stroke-linejoin="round" stroke-linecap="round"/>
<text x="217.3" y="217.1" font-family="Liberation Serif" font-size="8.3" text-anchor="start" fill="#000">Envelope</text>
<g fill="#ff0000"><circle cx="209.1" cy="175.2" r="1.9"/></g>
<text x="321.9" y="182.4" font-family="Liberation Serif" font-size="9.5" font-weight="bold" text-anchor="start" fill="#000" textLength="11.2" lengthAdjust="spacingAndGlyphs">(d)</text>
<text x="255.7" y="323.8" font-family="Liberation Sans" font-size="8.5" font-weight="bold" text-anchor="start" fill="#000" textLength="77" lengthAdjust="spacingAndGlyphs">Binding Energy (eV)</text>
<path d="M368.5 237.6C370.6 238.2 377.6 240.2 381.2 241.2C384.8 242.2 386.9 242.5 390 243.5C393.1 244.5 397.1 245.9 400 247C402.9 248.1 405.1 249 407.6 250.2C410.1 251.4 412.7 252.7 415.2 254C417.7 255.3 420.3 256.5 422.8 257.8C425.3 259.1 427.9 261 430.4 262C432.9 263 435.5 263.4 438 263.9C440.5 264.3 443.1 264.5 445.6 264.7C448.1 264.9 450.7 265 453.2 265.1C455.7 265.2 458 265.2 460.8 265.5C463.6 265.8 466.7 265.9 470 266.6C473.3 267.3 477.1 268.5 480.6 269.6C484.2 270.7 487.8 272 491.3 273.4C494.9 274.8 499.3 276.6 501.9 278C504.5 279.4 505.2 280.3 507 281.8C508.8 283.3 510.8 285.3 512.6 287C514.4 288.7 516.4 290.6 518 291.8C519.6 293 520.8 293.7 522 294.3C523.2 294.9 524.2 295.2 525.5 295.5C526.8 295.8 527.8 295.8 530 295.9C532.2 296 537.1 296 538.5 296" fill="none" stroke="#b8860b" stroke-width="1.3" stroke-linejoin="round" stroke-linecap="round"/>
<path d="M368.5 237.3 369.5 237.4 370.5 237.4 371.5 237.3 372.5 237.1 373.5 236.7 374.5 236.1 375.5 235.2 376.5 234.1 377.5 232.7 378.5 231.1 379.5 229.3 380.5 227.3 381.5 225.4 382.5 223.5 383.5 221.9 384.5 220.5 385.5 219.7 386.5 219.3 387.5 219.6 388.5 220.4 389.5 221.8 390.5 223.7 391.5 226 392.5 228.4 393.5 231 394.5 233.5 395.5 236 396.5 238.2 397.5 240.3 398.5 242 399.5 243.6 400.5 244.9 401.5 245.9 402.5 246.9 403.5 247.6 404.5 248.3 405.5 248.9 406.5 249.5" fill="none" stroke="#4db3e6" stroke-width="1.1" stroke-linejoin="round" stroke-linecap="round"/>
<path d="M382.5 241.3 383.5 241.4 384.5 241.3 385.5 241.1 386.5 240.8 387.5 240.2 388.5 239.3 389.5 238.1 390.5 236.6 391.5 235 392.5 233.1 393.5 231.3 394.5 229.6 395.5 228.3 396.5 227.5 397.5 227.3 398.5 227.8 399.5 229 400.5 230.8 401.5 233 402.5 235.5 403.5 238.1 404.5 240.6 405.5 243 406.5 245.1 407.5 246.9 408.5 248.4 409.5 249.6 410.5 250.7 411.5 251.5 412.5 252.3 413.5 252.9" fill="none" stroke="#66bb44" stroke-width="1.1" stroke-linejoin="round" stroke-linecap="round"/>
<path d="M391.5 243.8 392.5 244.1 393.5 244.3 394.5 244.5 395.5 244.6 396.5 244.7 397.5 244.6 398.5 244.5 399.5 244.2 400.5 243.8 401.5 243.2 402.5 242.5 403.5 241.6 404.5 240.6 405.5 239.4 406.5 238.2 407.5 236.9 408.5 235.6 409.5 234.4 410.5 233.3 411.5 232.5 412.5 231.9 413.5 231.7 414.5 231.8 415.5 232.3 416.5 233.2 417.5 234.4 418.5 236 419.5 237.8 420.5 239.9 421.5 242.1 422.5 244.4 423.5 246.7 424.5 248.9 425.5 251.1 426.5 253.2 427.5 255.1 428.5 256.8 429.5 258.2 430.5 259.4 431.5 260.5 432.5 261.3 433.5 261.9 434.5 262.5 435.5 262.9 436.5 263.3 437.5 263.6 438.5 263.8" fill="none" stroke="#2f5597" stroke-width="1.1" stroke-linejoin="round" stroke-linecap="round"/>
<path d="M409.5 250.9 410.5 251.2 411.5 251.5 412.5 251.6 413.5 251.5 414.5 251.2 415.5 250.6 416.5 249.5 417.5 248 418.5 246 419.5 243.5 420.5 240.6 421.5 237.4 422.5 233.9 423.5 230.6 424.5 227.6 425.5 225.2 426.5 223.6 427.5 223 428.5 223.4 429.5 224.9 430.5 227.4 431.5 230.6 432.5 234.4 433.5 238.5 434.5 242.7 435.5 246.7 436.5 250.4 437.5 253.6 438.5 256.4 439.5 258.7 440.5 260.4 441.5 261.7 442.5 262.7 443.5 263.4 444.5 263.9 445.5 264.3 446.5 264.5" fill="none" stroke="#ffc000" stroke-width="1.1" stroke-linejoin="round" stroke-linecap="round"/>
<path d="M449.5 264.8 450.5 264.7 451.5 264.6 452.5 264.4 453.5 264.2 454.5 263.8 455.5 263.3 456.5 262.7 457.5 261.9 458.5 260.8 459.5 259.6 460.5 258.2 461.5 256.6 462.5 254.9 463.5 253 464.5 251.2 465.5 249.4 466.5 247.7 467.5 246.4 468.5 245.4 469.5 244.9 470.5 244.8 471.5 245.2 472.5 246.1 473.5 247.4 474.5 249.1 475.5 251.1 476.5 253.3 477.5 255.5 478.5 257.8 479.5 259.9 480.5 262 481.5 263.8 482.5 265.5 483.5 266.9 484.5 268.2 485.5 269.3 486.5 270.2 487.5 271 488.5 271.6 489.5 272.2 490.5 272.8 491.5 273.3" fill="none" stroke="#8a8a8a" stroke-width="1.1" stroke-linejoin="round" stroke-linecap="round"/>
<path d="M460.5 265.3 461.5 265.3 462.5 265.2 463.5 265.1 464.5 264.9 465.5 264.6 466.5 264.2 467.5 263.6 468.5 262.7 469.5 261.7 470.5 260.3 471.5 258.5 472.5 256.4 473.5 254 474.5 251.1 475.5 247.9 476.5 244.3 477.5 240.6 478.5 236.8 479.5 233.1 480.5 229.6 481.5 226.5 482.5 223.9 483.5 222.1 484.5 221.1 485.5 221 486.5 221.8 487.5 223.5 488.5 226 489.5 229.3 490.5 233.1 491.5 237.3 492.5 241.8 493.5 246.3 494.5 250.7 495.5 254.9 496.5 258.9 497.5 262.4 498.5 265.6 499.5 268.4 500.5 270.9 501.5 272.9 502.5 274.7 503.5 276.3 504.5 277.8 505.5 279.2 506.5 280.5 507.5 281.6 508.5 282.7 509.5 283.8 510.5 284.9" fill="none" stroke="#4a4a4a" stroke-width="1.1" stroke-linejoin="round" stroke-linecap="round"/>
<path d="M485.5 271 486.5 271.2 487.5 271.4 488.5 271.4 489.5 271.2 490.5 270.8 491.5 270.1 492.5 268.9 493.5 267.3 494.5 265.1 495.5 262.2 496.5 258.6 497.5 254.4 498.5 249.7 499.5 244.6 500.5 239.3 501.5 234.1 502.5 229.5 503.5 225.8 504.5 223.2 505.5 222.1 506.5 222.5 507.5 224.4 508.5 227.8 509.5 232.5 510.5 238.2 511.5 244.5 512.5 251.2 513.5 257.8 514.5 264.2 515.5 270.1 516.5 275.3 517.5 279.9 518.5 283.7 519.5 286.8 520.5 289.2 521.5 291.1 522.5 292.6 523.5 293.7 524.5 294.5 525.5 295 526.5 295.4 527.5 295.6" fill="none" stroke="#c8642a" stroke-width="1.1" stroke-linejoin="round" stroke-linecap="round"/>
<path d="M499.5 276.6 500.5 276.9 501.5 277.1 502.5 277.2 503.5 277 504.5 276.4 505.5 275.3 506.5 273.3 507.5 270.3 508.5 266.2 509.5 260.8 510.5 254.2 511.5 246.6 512.5 238.5 513.5 230.4 514.5 223.1 515.5 217.4 516.5 213.9 517.5 213 518.5 215 519.5 219.6 520.5 226.4 521.5 234.9 522.5 244.3 523.5 253.8 524.5 262.8 525.5 270.8 526.5 277.5 527.5 283 528.5 287.1 529.5 290.2 530.5 292.3 531.5 293.7 532.5 294.7 533.5 295.2 534.5 295.6 535.5 295.8" fill="none" stroke="#f59d56" stroke-width="1.1" stroke-linejoin="round" stroke-linecap="round"/>
<path d="M368.5 238.3C368.8 237.7 369.4 236.4 370.3 234.7C371.2 233 372.8 230.7 374 228.3C375.2 225.9 376.4 222.3 377.6 220.5C378.8 218.7 379.8 218.7 381.2 217.5C382.6 216.3 384.4 213.8 385.8 213.2C387.2 212.6 388.3 213.1 389.5 213.7C390.7 214.3 392.1 216.1 393.1 216.8C394.2 217.6 394.7 217.4 395.8 218.2C396.9 219 398.4 219.8 399.5 221.5C400.6 223.2 401.3 227.2 402.2 228.5C403.1 229.8 403.9 229.7 405 229.5C406.1 229.3 407.6 228.1 408.6 227.6C409.6 227.1 409.9 226.4 411 226.5C412.1 226.6 414.1 228.9 415.3 228.2C416.6 227.4 417.4 224.3 418.5 222C419.6 219.7 420.4 215.5 421.7 214.6C422.9 213.7 424.7 214.9 426 216.7C427.3 218.5 428.4 222.3 429.5 225.5C430.6 228.7 431.8 232.2 432.8 236C433.9 239.8 434.8 244.6 435.8 248C436.8 251.4 437.6 254 439 256.5C440.4 259 442.2 262.2 444.1 263C446 263.8 448.4 262.4 450.2 261.5C452 260.6 453 259 454.8 257.8C456.6 256.6 459 255.8 460.8 254.5C462.6 253.2 463.9 252.8 465.4 250C466.9 247.2 468.6 240.8 470 237.5C471.4 234.2 472.3 232.7 473.5 230C474.7 227.3 476 223.8 477.2 221.5C478.4 219.2 479.6 216.9 480.8 216C482 215.1 483.3 215.1 484.5 216C485.7 216.9 486.9 219.2 488.1 221.5C489.3 223.8 490.5 227.4 491.7 230C492.9 232.6 494.4 236 495.4 236.8C496.4 237.6 496.9 236.1 497.5 235C498.1 233.9 498.4 232.1 499 230C499.6 227.9 500.4 224.9 501 222.4C501.6 219.9 502.3 217.6 502.8 215.1C503.3 212.6 503.8 209.6 504.2 207.5C504.6 205.4 505 204.7 505.5 202.4C506 200.2 506.7 196.1 507.3 194C507.9 191.9 508.3 190.9 509.2 190C510.1 189.1 511.7 188.7 512.8 188.7C513.8 188.7 514.7 189.9 515.5 190C516.3 190.1 516.8 187.6 517.4 189C518 190.4 518.8 195.7 519.2 198.7C519.7 201.7 519.7 203.6 520.1 206.9C520.5 210.2 521.5 215.1 521.9 218.8C522.3 222.5 522.4 223.3 522.8 229C523.2 234.7 523.9 247.2 524.3 253C524.7 258.8 524.8 259.8 525.3 264C525.8 268.2 526.5 274.6 527.4 278.5C528.3 282.4 529.5 285.5 530.6 287.4C531.7 289.3 532.7 289.3 533.8 290C534.9 290.7 536.2 291.3 537 291.7C537.8 292.1 538.2 292.4 538.5 292.5" fill="none" stroke="#2e75b6" stroke-width="1.2" stroke-linejoin="round" stroke-linecap="round"/>
<path d="M368.5 238.7 369.3 234.4 370.1 234.6 370.9 235.5 371.7 233.8 372.5 232.6 373.3 231.7 374.1 227 374.9 224.6 375.7 222.9 376.5 222.7 377.3 221.8 378.1 221.8 378.9 220.1 379.7 219.2 380.5 219.2 381.3 217.2 382.1 216.8 382.9 213.7 383.7 216.2 384.5 213 385.3 221.4 386.1 213.6 386.9 213 387.7 212.7 388.5 214.4 389.3 211.8 390.1 213.2 390.9 216.7 391.7 214.2 392.5 215.2 393.3 218.2 394.1 215.2 394.9 217.8 395.7 220.3 396.5 217.7 397.3 218.4 398.1 221.4 398.9 219.6 399.7 222 400.5 216 401.3 227.3 402.1 227.5 402.9 227.2 403.7 229.6 404.5 230.3 405.3 229.1 406.1 228 406.9 229.4 407.7 230 408.5 226.5 409.3 225.1 410.1 225.9 410.9 226.1 411.7 227.6 412.5 225.9 413.3 229.1 414.1 229.2 414.9 228.3 415.7 226.6 416.5 228.7 417.3 224 418.1 216.5 418.9 220 419.7 220.5 420.5 214.8 421.3 215.6 422.1 214.9 422.9 216.1 423.7 214.5 424.5 216.9 425.3 213.9 426.1 217.3 426.9 220.2 427.7 218.3 428.5 220.5 429.3 225.3 430.1 221.7 430.9 229.4 431.7 233.2 432.5 234.1 433.3 236.2 434.1 239.4 434.9 243.2 435.7 246.3 436.5 251 437.3 252.8 438.1 254.5 438.9 255.5 439.7 258.7 440.5 260.6 441.3 262.4 442.1 261.1 442.9 260.4 443.7 260.9 444.5 271 445.3 261.6 446.1 265.2 446.9 261.7 447.7 262.1 448.5 263.8 449.3 263.4 450.1 261.3 450.9 259.1 451.7 260.4 452.5 259.2 453.3 260.9 454.1 257 454.9 257.1 455.7 259 456.5 254.8 457.3 256.1 458.1 257.4 458.9 256.8 459.7 253.2 460.5 252.7 461.3 252.2 462.1 255.5 462.9 245.3 463.7 251.7 464.5 250.4 465.3 252.2 466.1 249 466.9 245.4 467.7 245.1 468.5 240.9 469.3 238.4 470.1 235.1 470.9 236.5 471.7 235.6 472.5 232.7 473.3 223 474.1 226.9 474.9 227.6 475.7 224.6 476.5 224.2 477.3 222.6 478.1 221.6 478.9 219.8 479.7 215.6 480.5 216.3 481.3 213.5 482.1 217.3 482.9 214.5 483.7 216.4 484.5 214.5 485.3 215.6 486.1 219.5 486.9 219.1 487.7 222 488.5 216.2 489.3 222.7 490.1 225.8 490.9 228.8 491.7 229.9 492.5 231.9 493.3 231.9 494.1 234.6 494.9 234.5 495.7 235.1 496.5 237.3 497.3 234.1 498.1 233.1 498.9 232.5 499.7 229.5 500.5 222.9 501.3 219.6 502.1 217.9 502.9 207.4 503.7 211.7 504.5 206.9 505.3 202 506.1 205.3 506.9 194.8 507.7 191.9 508.5 190.1 509.3 189.7 510.1 188.4 510.9 188.2 511.7 188.1 512.5 190 513.3 187.8 514.1 187.8 514.9 189 515.7 189.1 516.5 189.1 517.3 189.3 518.1 190.5 518.9 196.6 519.7 201.7 520.5 202.1 521.3 215.9 522.1 219 522.9 229.8 523.7 242.3 524.5 254.8 525.3 265.5 526.1 270.8 526.9 277.3 527.7 279.3 528.5 283.6 529.3 284.5 530.1 285.7 530.9 288.8 531.7 290.2 532.5 295 533.3 289.3 534.1 289 534.9 289.7 535.7 290.3 536.5 291.8 537.3 292.3 538.1 291.3" fill="none" stroke="#ff0000" stroke-width="1" stroke-linejoin="round" stroke-linecap="round"/>
<g fill="#2a68c0"><circle cx="368.5" cy="238.7" r="1.7"/><circle cx="369.3" cy="234.4" r="1.7"/><circle cx="370.1" cy="234.6" r="1.7"/><circle cx="370.9" cy="235.5" r="1.7"/><circle cx="371.7" cy="233.8" r="1.7"/><circle cx="372.5" cy="232.6" r="1.7"/><circle cx="373.3" cy="231.7" r="1.7"/><circle cx="374.1" cy="227" r="1.7"/><circle cx="374.9" cy="224.6" r="1.7"/><circle cx="375.7" cy="222.9" r="1.7"/><circle cx="376.5" cy="222.7" r="1.7"/><circle cx="377.3" cy="221.8" r="1.7"/><circle cx="378.1" cy="221.8" r="1.7"/><circle cx="378.9" cy="220.1" r="1.7"/><circle cx="379.7" cy="219.2" r="1.7"/><circle cx="380.5" cy="219.2" r="1.7"/><circle cx="381.3" cy="217.2" r="1.7"/><circle cx="382.1" cy="216.8" r="1.7"/><circle cx="382.9" cy="213.7" r="1.7"/><circle cx="383.7" cy="216.2" r="1.7"/><circle cx="384.5" cy="213" r="1.7"/><circle cx="385.3" cy="221.4" r="1.7"/><circle cx="386.1" cy="213.6" r="1.7"/><circle cx="386.9" cy="213" r="1.7"/><circle cx="387.7" cy="212.7" r="1.7"/><circle cx="388.5" cy="214.4" r="1.7"/><circle cx="389.3" cy="211.8" r="1.7"/><circle cx="390.1" cy="213.2" r="1.7"/><circle cx="390.9" cy="216.7" r="1.7"/><circle cx="391.7" cy="214.2" r="1.7"/><circle cx="392.5" cy="215.2" r="1.7"/><circle cx="393.3" cy="218.2" r="1.7"/><circle cx="394.1" cy="215.2" r="1.7"/><circle cx="394.9" cy="217.8" r="1.7"/><circle cx="395.7" cy="220.3" r="1.7"/><circle cx="396.5" cy="217.7" r="1.7"/><circle cx="397.3" cy="218.4" r="1.7"/><circle cx="398.1" cy="221.4" r="1.7"/><circle cx="398.9" cy="219.6" r="1.7"/><circle cx="399.7" cy="222" r="1.7"/><circle cx="400.5" cy="216" r="1.7"/><circle cx="401.3" cy="227.3" r="1.7"/><circle cx="402.1" cy="227.5" r="1.7"/><circle cx="402.9" cy="227.2" r="1.7"/><circle cx="403.7" cy="229.6" r="1.7"/><circle cx="404.5" cy="230.3" r="1.7"/><circle cx="405.3" cy="229.1" r="1.7"/><circle cx="406.1" cy="228" r="1.7"/><circle cx="406.9" cy="229.4" r="1.7"/><circle cx="407.7" cy="230" r="1.7"/><circle cx="408.5" cy="226.5" r="1.7"/><circle cx="409.3" cy="225.1" r="1.7"/><circle cx="410.1" cy="225.9" r="1.7"/><circle cx="410.9" cy="226.1" r="1.7"/><circle cx="411.7" cy="227.6" r="1.7"/><circle cx="412.5" cy="225.9" r="1.7"/><circle cx="413.3" cy="229.1" r="1.7"/><circle cx="414.1" cy="229.2" r="1.7"/><circle cx="414.9" cy="228.3" r="1.7"/><circle cx="415.7" cy="226.6" r="1.7"/><circle cx="416.5" cy="228.7" r="1.7"/><circle cx="417.3" cy="224" r="1.7"/><circle cx="418.1" cy="216.5" r="1.7"/><circle cx="418.9" cy="220" r="1.7"/><circle cx="419.7" cy="220.5" r="1.7"/><circle cx="420.5" cy="214.8" r="1.7"/><circle cx="421.3" cy="215.6" r="1.7"/><circle cx="422.1" cy="214.9" r="1.7"/><circle cx="422.9" cy="216.1" r="1.7"/><circle cx="423.7" cy="214.5" r="1.7"/><circle cx="424.5" cy="216.9" r="1.7"/><circle cx="425.3" cy="213.9" r="1.7"/><circle cx="426.1" cy="217.3" r="1.7"/><circle cx="426.9" cy="220.2" r="1.7"/><circle cx="427.7" cy="218.3" r="1.7"/><circle cx="428.5" cy="220.5" r="1.7"/><circle cx="429.3" cy="225.3" r="1.7"/><circle cx="430.1" cy="221.7" r="1.7"/><circle cx="430.9" cy="229.4" r="1.7"/><circle cx="431.7" cy="233.2" r="1.7"/><circle cx="432.5" cy="234.1" r="1.7"/><circle cx="433.3" cy="236.2" r="1.7"/><circle cx="434.1" cy="239.4" r="1.7"/><circle cx="434.9" cy="243.2" r="1.7"/><circle cx="435.7" cy="246.3" r="1.7"/><circle cx="436.5" cy="251" r="1.7"/><circle cx="437.3" cy="252.8" r="1.7"/><circle cx="438.1" cy="254.5" r="1.7"/><circle cx="438.9" cy="255.5" r="1.7"/><circle cx="439.7" cy="258.7" r="1.7"/><circle cx="440.5" cy="260.6" r="1.7"/><circle cx="441.3" cy="262.4" r="1.7"/><circle cx="442.1" cy="261.1" r="1.7"/><circle cx="442.9" cy="260.4" r="1.7"/><circle cx="443.7" cy="260.9" r="1.7"/><circle cx="444.5" cy="271" r="1.7"/><circle cx="445.3" cy="261.6" r="1.7"/><circle cx="446.1" cy="265.2" r="1.7"/><circle cx="446.9" cy="261.7" r="1.7"/><circle cx="447.7" cy="262.1" r="1.7"/><circle cx="448.5" cy="263.8" r="1.7"/><circle cx="449.3" cy="263.4" r="1.7"/><circle cx="450.1" cy="261.3" r="1.7"/><circle cx="450.9" cy="259.1" r="1.7"/><circle cx="451.7" cy="260.4" r="1.7"/><circle cx="452.5" cy="259.2" r="1.7"/><circle cx="453.3" cy="260.9" r="1.7"/><circle cx="454.1" cy="257" r="1.7"/><circle cx="454.9" cy="257.1" r="1.7"/><circle cx="455.7" cy="259" r="1.7"/><circle cx="456.5" cy="254.8" r="1.7"/><circle cx="457.3" cy="256.1" r="1.7"/><circle cx="458.1" cy="257.4" r="1.7"/><circle cx="458.9" cy="256.8" r="1.7"/><circle cx="459.7" cy="253.2" r="1.7"/><circle cx="460.5" cy="252.7" r="1.7"/><circle cx="461.3" cy="252.2" r="1.7"/><circle cx="462.1" cy="255.5" r="1.7"/><circle cx="462.9" cy="245.3" r="1.7"/><circle cx="463.7" cy="251.7" r="1.7"/><circle cx="464.5" cy="250.4" r="1.7"/><circle cx="465.3" cy="252.2" r="1.7"/><circle cx="466.1" cy="249" r="1.7"/><circle cx="466.9" cy="245.4" r="1.7"/><circle cx="467.7" cy="245.1" r="1.7"/><circle cx="468.5" cy="240.9" r="1.7"/><circle cx="469.3" cy="238.4" r="1.7"/><circle cx="470.1" cy="235.1" r="1.7"/><circle cx="470.9" cy="236.5" r="1.7"/><circle cx="471.7" cy="235.6" r="1.7"/><circle cx="472.5" cy="232.7" r="1.7"/><circle cx="473.3" cy="223" r="1.7"/><circle cx="474.1" cy="226.9" r="1.7"/><circle cx="474.9" cy="227.6" r="1.7"/><circle cx="475.7" cy="224.6" r="1.7"/><circle cx="476.5" cy="224.2" r="1.7"/><circle cx="477.3" cy="222.6" r="1.7"/><circle cx="478.1" cy="221.6" r="1.7"/><circle cx="478.9" cy="219.8" r="1.7"/><circle cx="479.7" cy="215.6" r="1.7"/><circle cx="480.5" cy="216.3" r="1.7"/><circle cx="481.3" cy="213.5" r="1.7"/><circle cx="482.1" cy="217.3" r="1.7"/><circle cx="482.9" cy="214.5" r="1.7"/><circle cx="483.7" cy="216.4" r="1.7"/><circle cx="484.5" cy="214.5" r="1.7"/><circle cx="485.3" cy="215.6" r="1.7"/><circle cx="486.1" cy="219.5" r="1.7"/><circle cx="486.9" cy="219.1" r="1.7"/><circle cx="487.7" cy="222" r="1.7"/><circle cx="488.5" cy="216.2" r="1.7"/><circle cx="489.3" cy="222.7" r="1.7"/><circle cx="490.1" cy="225.8" r="1.7"/><circle cx="490.9" cy="228.8" r="1.7"/><circle cx="491.7" cy="229.9" r="1.7"/><circle cx="492.5" cy="231.9" r="1.7"/><circle cx="493.3" cy="231.9" r="1.7"/><circle cx="494.1" cy="234.6" r="1.7"/><circle cx="494.9" cy="234.5" r="1.7"/><circle cx="495.7" cy="235.1" r="1.7"/><circle cx="496.5" cy="237.3" r="1.7"/><circle cx="497.3" cy="234.1" r="1.7"/><circle cx="498.1" cy="233.1" r="1.7"/><circle cx="498.9" cy="232.5" r="1.7"/><circle cx="499.7" cy="229.5" r="1.7"/><circle cx="500.5" cy="222.9" r="1.7"/><circle cx="501.3" cy="219.6" r="1.7"/><circle cx="502.1" cy="217.9" r="1.7"/><circle cx="502.9" cy="207.4" r="1.7"/><circle cx="503.7" cy="211.7" r="1.7"/><circle cx="504.5" cy="206.9" r="1.7"/><circle cx="505.3" cy="202" r="1.7"/><circle cx="506.1" cy="205.3" r="1.7"/><circle cx="506.9" cy="194.8" r="1.7"/><circle cx="507.7" cy="191.9" r="1.7"/><circle cx="508.5" cy="190.1" r="1.7"/><circle cx="509.3" cy="189.7" r="1.7"/><circle cx="510.1" cy="188.4" r="1.7"/><circle cx="510.9" cy="188.2" r="1.7"/><circle cx="511.7" cy="188.1" r="1.7"/><circle cx="512.5" cy="190" r="1.7"/><circle cx="513.3" cy="187.8" r="1.7"/><circle cx="514.1" cy="187.8" r="1.7"/><circle cx="514.9" cy="189" r="1.7"/><circle cx="515.7" cy="189.1" r="1.7"/><circle cx="516.5" cy="189.1" r="1.7"/><circle cx="517.3" cy="189.3" r="1.7"/><circle cx="518.1" cy="190.5" r="1.7"/><circle cx="518.9" cy="196.6" r="1.7"/><circle cx="519.7" cy="201.7" r="1.7"/><circle cx="520.5" cy="202.1" r="1.7"/><circle cx="521.3" cy="215.9" r="1.7"/><circle cx="522.1" cy="219" r="1.7"/><circle cx="522.9" cy="229.8" r="1.7"/><circle cx="523.7" cy="242.3" r="1.7"/><circle cx="524.5" cy="254.8" r="1.7"/><circle cx="525.3" cy="265.5" r="1.7"/><circle cx="526.1" cy="270.8" r="1.7"/><circle cx="526.9" cy="277.3" r="1.7"/><circle cx="527.7" cy="279.3" r="1.7"/><circle cx="528.5" cy="283.6" r="1.7"/><circle cx="529.3" cy="284.5" r="1.7"/><circle cx="530.1" cy="285.7" r="1.7"/><circle cx="530.9" cy="288.8" r="1.7"/><circle cx="531.7" cy="290.2" r="1.7"/><circle cx="532.5" cy="295" r="1.7"/><circle cx="533.3" cy="289.3" r="1.7"/><circle cx="534.1" cy="289" r="1.7"/><circle cx="534.9" cy="289.7" r="1.7"/><circle cx="535.7" cy="290.3" r="1.7"/><circle cx="536.5" cy="291.8" r="1.7"/><circle cx="537.3" cy="292.3" r="1.7"/><circle cx="538.1" cy="291.3" r="1.7"/></g>
<path d="M512.8 181.4V189" fill="none" stroke="#ff0000" stroke-width="1.1" stroke-linejoin="round" stroke-linecap="round"/>
<g fill="#2a68c0"><circle cx="512.8" cy="181.4" r="1.6"/></g>
<rect x="363.8" y="171.9" width="175.5" height="124.3" fill="none" stroke="#333" stroke-width="1.3"/>
<path d="M539.3 296.2v2.6M514.2 296.2v2.6M489.2 296.2v2.6M464.1 296.2v2.6M439 296.2v2.6M413.9 296.2v2.6M388.9 296.2v2.6M363.8 296.2v2.6" stroke="#333" stroke-width="1.2" fill="none"/>
<text x="539.5" y="310.8" font-family="Liberation Serif" font-size="9.8" font-weight="bold" text-anchor="middle" fill="#000">850</text>
<text x="514.4" y="310.8" font-family="Liberation Serif" font-size="9.8" font-weight="bold" text-anchor="middle" fill="#000">855</text>
<text x="489.4" y="310.8" font-family="Liberation Serif" font-size="9.8" font-weight="bold" text-anchor="middle" fill="#000">860</text>
<text x="464.3" y="310.8" font-family="Liberation Serif" font-size="9.8" font-weight="bold" text-anchor="middle" fill="#000">865</text>
<text x="439.2" y="310.8" font-family="Liberation Serif" font-size="9.8" font-weight="bold" text-anchor="middle" fill="#000">870</text>
<text x="414.1" y="310.8" font-family="Liberation Serif" font-size="9.8" font-weight="bold" text-anchor="middle" fill="#000">875</text>
<text x="389.1" y="310.8" font-family="Liberation Serif" font-size="9.8" font-weight="bold" text-anchor="middle" fill="#000">880</text>
<text x="364" y="310.8" font-family="Liberation Serif" font-size="9.8" font-weight="bold" text-anchor="middle" fill="#000">885</text>
<path d="M366.1 180.7H379.8" fill="none" stroke="#ff0000" stroke-width="1.3" stroke-linejoin="round" stroke-linecap="round"/>
<text x="381" y="183.5" font-family="Liberation Serif" font-size="8.1" text-anchor="start" fill="#000">Exp.</text>
<path d="M366.1 189H379.8" fill="none" stroke="#ffc000" stroke-width="1.3" stroke-linejoin="round" stroke-linecap="round"/>
<text x="381" y="191.8" font-family="Liberation Serif" font-size="8.1" text-anchor="start" fill="#000">Ni2p1/2</text>
<path d="M366.1 197.4H379.8" fill="none" stroke="#2f5597" stroke-width="1.3" stroke-linejoin="round" stroke-linecap="round"/>
<text x="381" y="200.2" font-family="Liberation Serif" font-size="8.1" text-anchor="start" fill="#000">Ni2p1/2</text>
<path d="M366.1 206H379.8" fill="none" stroke="#b8860b" stroke-width="1.3" stroke-linejoin="round" stroke-linecap="round"/>
<text x="381" y="208.8" font-family="Liberation Serif" font-size="8.1" text-anchor="start" fill="#000">Backgnd.</text>
<path d="M418.6 180.7H432.7" fill="none" stroke="#f59d56" stroke-width="1.3" stroke-linejoin="round" stroke-linecap="round"/>
<text x="433.8" y="183.5" font-family="Liberation Serif" font-size="8.1" text-anchor="start" fill="#000">Ni2p3/2</text>
<path d="M418.6 189H432.7" fill="none" stroke="#4db3e6" stroke-width="1.3" stroke-linejoin="round" stroke-linecap="round"/>
<text x="433.8" y="191.8" font-family="Liberation Serif" font-size="8.1" text-anchor="start" fill="#000">Satellite</text>
<path d="M418.6 197.4H432.7" fill="none" stroke="#c8642a" stroke-width="1.3" stroke-linejoin="round" stroke-linecap="round"/>
<text x="433.8" y="200.2" font-family="Liberation Serif" font-size="8.1" text-anchor="start" fill="#000">Ni2p3/2</text>
<path d="M418.6 206H432.7" fill="none" stroke="#2e75b6" stroke-width="1.3" stroke-linejoin="round" stroke-linecap="round"/>
<text x="433.8" y="208.8" font-family="Liberation Serif" font-size="8.1" text-anchor="start" fill="#000">Envelope</text>
<path d="M472.5 180.7H485.6" fill="none" stroke="#b0b0b0" stroke-width="1.3" stroke-linejoin="round" stroke-linecap="round"/>
<text x="486.7" y="183.5" font-family="Liberation Serif" font-size="8.1" text-anchor="start" fill="#000">Satellite</text>
<path d="M472.5 189H485.6" fill="none" stroke="#66bb44" stroke-width="1.3" stroke-linejoin="round" stroke-linecap="round"/>
<text x="486.7" y="191.8" font-family="Liberation Serif" font-size="8.1" text-anchor="start" fill="#000">Satellite</text>
<path d="M472.5 197.4H485.6" fill="none" stroke="#595959" stroke-width="1.3" stroke-linejoin="round" stroke-linecap="round"/>
<text x="486.7" y="200.2" font-family="Liberation Serif" font-size="8.1" text-anchor="start" fill="#000">Satellite</text>
<g fill="#2a68c0"><circle cx="372.9" cy="180.7" r="1.9"/></g>
<text x="521.2" y="182.6" font-family="Liberation Serif" font-size="9.5" font-weight="bold" text-anchor="start" fill="#000" textLength="10.9" lengthAdjust="spacingAndGlyphs">(e)</text>
</svg></div>
</body></html>
